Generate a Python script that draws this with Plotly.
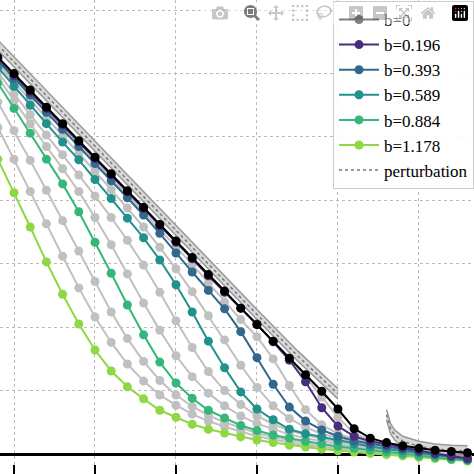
import plotly.graph_objects as go

x = [-0.2, 0.0, 0.2, 0.4, 0.6, 0.8, 1.0, 1.2, 1.4, 1.6, 1.8, 2.0, 2.2, 2.4, 2.6,
     2.8, 3.0, 3.2, 3.4, 3.6, 3.8, 4.0, 4.2, 4.4, 4.6, 4.8, 5.0, 5.2, 5.4, 5.6]

b_labels = ["b=0", "b=0.196", "b=0.393", "b=0.589", "b=0.884", "b=1.178"]
b_colors = ["#000000", "#472d7b", "#31688e", "#21918c", "#35b779", "#8fd744"]

y_b0 = [6.26, 6.0, 5.74, 5.47, 5.21, 4.94, 4.68, 4.42, 4.15, 3.89, 3.62, 3.36, 3.10, 2.83, 2.57,
        2.30, 2.04, 1.78, 1.51, 1.25, 0.99, 0.71, 0.40, 0.25, 0.18, 0.13, 0.09, 0.06, 0.04, 0.02]
y_b196 = [6.24, 5.97, 5.71, 5.45, 5.19, 4.92, 4.66, 4.40, 4.13, 3.87, 3.60, 3.34, 3.08, 2.81, 2.55,
          2.30, 2.05, 1.77, 1.48, 1.14, 0.73, 0.44, 0.28, 0.20, 0.15, 0.10, 0.05, 0.01, -0.03, -0.07]
y_b393 = [6.2, 5.93, 5.66, 5.39, 5.12, 4.85, 4.58, 4.31, 4.04, 3.77, 3.48, 3.17, 2.87, 2.58, 2.29,
          1.93, 1.52, 1.10, 0.74, 0.52, 0.38, 0.28, 0.21, 0.16, 0.12, 0.08, 0.04, 0.0, -0.04, -0.08]
y_b589 = [6.1, 5.8, 5.5, 5.21, 4.92, 4.64, 4.33, 4.03, 3.72, 3.41, 3.06, 2.67, 2.24, 1.78, 1.36,
          0.98, 0.71, 0.54, 0.39, 0.32, 0.27, 0.21, 0.16, 0.12, 0.08, 0.05, 0.02, -0.02, -0.05, -0.08]
y_b884 = [5.85, 5.45, 5.06, 4.65, 4.26, 3.82, 3.34, 2.85, 2.35, 1.88, 1.45, 1.12, 0.88, 0.69, 0.57,
          0.45, 0.37, 0.30, 0.25, 0.20, 0.16, 0.12, 0.09, 0.06, 0.03, 0.0, -0.03, -0.05, -0.08, -0.10]
y_b1178 = [4.65, 4.12, 3.58, 3.03, 2.52, 2.05, 1.64, 1.31, 1.06, 0.87, 0.69, 0.58, 0.47, 0.39, 0.33,
           0.27, 0.22, 0.18, 0.14, 0.11, 0.08, 0.05, 0.03, 0.01, -0.01, -0.03, -0.05, -0.07, -0.09, -0.11]
colored_series = [y_b0, y_b196, y_b393, y_b589, y_b884, y_b1178]

# intermediate (unlabelled, grey) b values
y_g098 = [6.25, 5.99, 5.73, 5.46, 5.20, 4.93, 4.67, 4.41, 4.14, 3.88, 3.61, 3.35, 3.09, 2.82, 2.56,
          2.30, 2.04, 1.78, 1.50, 1.22, 0.90, 0.58, 0.33, 0.22, 0.16, 0.11, 0.07, 0.03, -0.01, -0.05]
y_g295 = [6.22, 5.95, 5.69, 5.42, 5.16, 4.89, 4.62, 4.36, 4.09, 3.82, 3.55, 3.27, 2.99, 2.70, 2.40,
          2.12, 1.85, 1.50, 1.08, 0.70, 0.46, 0.32, 0.24, 0.18, 0.13, 0.09, 0.05, 0.01, -0.03, -0.07]
y_g491 = [6.15, 5.87, 5.58, 5.30, 5.02, 4.74, 4.46, 4.17, 3.88, 3.58, 3.26, 2.92, 2.56, 2.18, 1.80,
          1.40, 1.05, 0.76, 0.56, 0.42, 0.32, 0.25, 0.19, 0.14, 0.10, 0.06, 0.03, -0.01, -0.05, -0.08]
y_g687 = [6.02, 5.68, 5.35, 5.03, 4.72, 4.40, 4.07, 3.73, 3.37, 2.98, 2.55, 2.10, 1.68, 1.30, 1.00,
          0.78, 0.60, 0.47, 0.37, 0.30, 0.24, 0.19, 0.14, 0.10, 0.07, 0.04, 0.01, -0.02, -0.05, -0.08]
y_g785 = [5.94, 5.57, 5.21, 4.85, 4.50, 4.14, 3.73, 3.30, 2.84, 2.38, 1.95, 1.55, 1.22, 0.96, 0.76,
          0.60, 0.48, 0.39, 0.31, 0.25, 0.20, 0.15, 0.11, 0.08, 0.05, 0.02, -0.01, -0.04, -0.07, -0.09]
y_g982 = [5.55, 5.10, 4.63, 4.16, 3.68, 3.20, 2.72, 2.24, 1.82, 1.46, 1.16, 0.93, 0.75, 0.61, 0.50,
          0.41, 0.33, 0.27, 0.22, 0.17, 0.13, 0.10, 0.07, 0.04, 0.02, -0.01, -0.03, -0.06, -0.08, -0.10]
y_g1080 = [5.15, 4.65, 4.14, 3.63, 3.12, 2.62, 2.16, 1.76, 1.42, 1.15, 0.93, 0.77, 0.63, 0.52, 0.43,
           0.35, 0.28, 0.23, 0.18, 0.14, 0.11, 0.08, 0.05, 0.03, 0.01, -0.02, -0.04, -0.06, -0.08, -0.10]
grey_series = [y_g098, y_g295, y_g491, y_g687, y_g785, y_g982, y_g1080]

# perturbation theory curves (two branches) with band half-width
pert1_x = [-0.2, 0.5, 1.0, 1.5, 2.0, 2.5, 3.0, 3.5, 4.0]
pert1_y = [6.45, 5.52, 4.86, 4.19, 3.53, 2.86, 2.20, 1.55, 0.95]
pert2_x = [4.6, 4.65, 4.7, 4.8, 5.0, 5.2, 5.4, 5.6]
pert2_y = [0.62, 0.40, 0.30, 0.20, 0.12, 0.08, 0.06, 0.05]
pert_halfwidth = 0.08

fig = go.Figure()

def band(px, py, showlegend):
    up = [v + pert_halfwidth for v in py]
    lo = [v - pert_halfwidth for v in py]
    fig.add_trace(go.Scatter(x=px, y=up, mode="lines", line=dict(color="#999999", width=1.5),
                             showlegend=False, hoverinfo="skip"))
    fig.add_trace(go.Scatter(x=px, y=lo, mode="lines", line=dict(color="#999999", width=1.5),
                             fill="tonexty", fillcolor="rgba(200,200,200,0.7)",
                             showlegend=False, hoverinfo="skip"))
    fig.add_trace(go.Scatter(x=px, y=py, mode="lines", line=dict(color="#777777", width=1.5, dash="dot"),
                             name="perturbation", showlegend=showlegend,
                             legendrank=100))

for ys in grey_series:
    fig.add_trace(go.Scatter(x=x, y=ys, mode="lines+markers", showlegend=False,
                             line=dict(color="#c0c0c0", width=2),
                             marker=dict(color="#c0c0c0", size=9)))

band(pert1_x, pert1_y, True)
band(pert2_x, pert2_y, False)

for i in range(len(colored_series) - 1, -1, -1):
    fig.add_trace(go.Scatter(x=x, y=colored_series[i], mode="lines+markers", name=b_labels[i],
                             legendrank=i + 1,
                             line=dict(color=b_colors[i], width=2),
                             marker=dict(color=b_colors[i], size=9)))

fig.update_layout(
    width=474, height=474,
    margin=dict(l=0, r=0, t=0, b=0),
    plot_bgcolor="white", paper_bgcolor="white",
    font=dict(family="Liberation Serif", size=16, color="black"),
    legend=dict(x=0.703, y=0.998, xanchor="left", yanchor="top", traceorder="normal",
                bgcolor="rgba(255,255,255,0.9)", bordercolor="#cccccc", borderwidth=1,
                font=dict(family="Liberation Serif", size=17), tracegroupgap=0,
                itemwidth=40),
)
fig.update_xaxes(range=[-0.173, 5.68], showticklabels=False, dtick=1, tick0=0,
                 showgrid=True, gridcolor="#bbbbbb", griddash="dot", gridwidth=1,
                 zeroline=False, ticks="inside", ticklen=9, tickcolor="black", tickwidth=1.5)
fig.update_yaxes(range=[-0.315, 7.16], showticklabels=False, dtick=1, tick0=0,
                 showgrid=True, gridcolor="#bbbbbb", griddash="dot", gridwidth=1,
                 zeroline=True, zerolinecolor="black", zerolinewidth=2.5)

fig.write_html("out.html", post_script="document.body.style.margin='0';")
